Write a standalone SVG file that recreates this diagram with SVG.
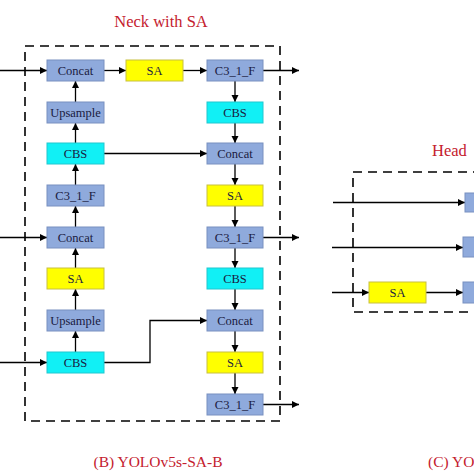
<svg xmlns="http://www.w3.org/2000/svg" width="474" height="474" viewBox="0 0 474 474">
<style>
.blue{fill:#8FAADC;stroke:#7890C0;stroke-width:1}
.cyan{fill:#11F0F5;stroke:#20C8D0;stroke-width:1}
.yel{fill:#FFFF00;stroke:#C8C040;stroke-width:1}
.lbl{font-family:"Liberation Serif","DejaVu Serif",serif;font-size:12.5px;text-anchor:middle;fill:#1a1a40}
.ttl{font-family:"Liberation Serif","DejaVu Serif",serif;font-size:16.5px;fill:#C4202E}
.cap{font-size:15.5px}
.dash{fill:none;stroke:#000;stroke-width:1.6;stroke-dasharray:9,6}
.ln{fill:none;stroke:#000;stroke-width:1.3}
</style>
<defs>
<marker id="ah" markerWidth="8" markerHeight="8" refX="7" refY="4" orient="auto" markerUnits="userSpaceOnUse">
<path d="M0,0.5 L7,4 L0,7.5 Z" fill="#000"/>
</marker>
</defs>
<rect width="474" height="474" fill="#fff"/>
<text class="ttl" x="161" y="27" text-anchor="middle">Neck with SA</text>
<text class="ttl" x="432" y="156">Head</text>
<text class="ttl cap" x="158" y="467" text-anchor="middle">(B) YOLOv5s-SA-B</text>
<text class="ttl cap" x="428" y="467">(C) YOLOv5s-SA-C</text>
<g id="frames">
<rect class="dash" x="25" y="46" width="255" height="375"/>
<rect class="dash" x="353" y="172" width="160" height="140"/>
</g>
<g id="connectors" class="ln">
<line x1="0" y1="70.5" x2="47" y2="70.5" marker-end="url(#ah)"/>
<line x1="0" y1="237.5" x2="47" y2="237.5" marker-end="url(#ah)"/>
<line x1="0" y1="362.5" x2="47" y2="362.5" marker-end="url(#ah)"/>
<line x1="263" y1="70.5" x2="299" y2="70.5" marker-end="url(#ah)"/>
<line x1="263" y1="237.5" x2="299" y2="237.5" marker-end="url(#ah)"/>
<line x1="263" y1="404.5" x2="299" y2="404.5" marker-end="url(#ah)"/>
<line x1="104" y1="70.5" x2="126" y2="70.5" marker-end="url(#ah)"/>
<line x1="183" y1="70.5" x2="207" y2="70.5" marker-end="url(#ah)"/>
<line x1="104" y1="153.5" x2="207" y2="153.5" marker-end="url(#ah)"/>
<polyline points="104,362.5 150,362.5 150,320.5 207,320.5" marker-end="url(#ah)"/>
<line x1="75.5" y1="102" x2="75.5" y2="81" marker-end="url(#ah)"/>
<line x1="75.5" y1="143" x2="75.5" y2="123" marker-end="url(#ah)"/>
<line x1="75.5" y1="185" x2="75.5" y2="164" marker-end="url(#ah)"/>
<line x1="75.5" y1="227" x2="75.5" y2="206" marker-end="url(#ah)"/>
<line x1="75.5" y1="268" x2="75.5" y2="248" marker-end="url(#ah)"/>
<line x1="75.5" y1="310" x2="75.5" y2="289" marker-end="url(#ah)"/>
<line x1="75.5" y1="352" x2="75.5" y2="331" marker-end="url(#ah)"/>
<line x1="235" y1="81" x2="235" y2="102" marker-end="url(#ah)"/>
<line x1="235" y1="123" x2="235" y2="143" marker-end="url(#ah)"/>
<line x1="235" y1="164" x2="235" y2="185" marker-end="url(#ah)"/>
<line x1="235" y1="206" x2="235" y2="227" marker-end="url(#ah)"/>
<line x1="235" y1="248" x2="235" y2="268" marker-end="url(#ah)"/>
<line x1="235" y1="289" x2="235" y2="310" marker-end="url(#ah)"/>
<line x1="235" y1="331" x2="235" y2="352" marker-end="url(#ah)"/>
<line x1="235" y1="373" x2="235" y2="394" marker-end="url(#ah)"/>
<line x1="333" y1="202.5" x2="465" y2="202.5" marker-end="url(#ah)"/>
<line x1="332" y1="247.5" x2="463" y2="247.5" marker-end="url(#ah)"/>
<line x1="332" y1="292.5" x2="369" y2="292.5" marker-end="url(#ah)"/>
<line x1="426" y1="292.5" x2="463" y2="292.5" marker-end="url(#ah)"/>
</g>
<g id="n-concat1"><rect class="blue" x="47" y="60" width="57" height="21"/><text class="lbl" x="75.5" y="75">Concat</text></g>
<g id="n-sa-top"><rect class="yel" x="126" y="60" width="57" height="21"/><text class="lbl" x="154.5" y="75">SA</text></g>
<g id="n-c3-r1"><rect class="blue" x="207" y="60" width="56" height="21"/><text class="lbl" x="235" y="75">C3_1_F</text></g>
<g id="n-up1"><rect class="blue" x="47" y="102" width="57" height="21"/><text class="lbl" x="75.5" y="117">Upsample</text></g>
<g id="n-cbs-r2"><rect class="cyan" x="207" y="102" width="56" height="21"/><text class="lbl" x="235" y="117">CBS</text></g>
<g id="n-cbs-l3"><rect class="cyan" x="47" y="143" width="57" height="21"/><text class="lbl" x="75.5" y="158">CBS</text></g>
<g id="n-concat-r3"><rect class="blue" x="207" y="143" width="56" height="21"/><text class="lbl" x="235" y="158">Concat</text></g>
<g id="n-c3-l4"><rect class="blue" x="47" y="185" width="57" height="21"/><text class="lbl" x="75.5" y="200">C3_1_F</text></g>
<g id="n-sa-r4"><rect class="yel" x="207" y="185" width="56" height="21"/><text class="lbl" x="235" y="200">SA</text></g>
<g id="n-concat-l5"><rect class="blue" x="47" y="227" width="57" height="21"/><text class="lbl" x="75.5" y="242">Concat</text></g>
<g id="n-c3-r5"><rect class="blue" x="207" y="227" width="56" height="21"/><text class="lbl" x="235" y="242">C3_1_F</text></g>
<g id="n-sa-l6"><rect class="yel" x="47" y="268" width="57" height="21"/><text class="lbl" x="75.5" y="283">SA</text></g>
<g id="n-cbs-r6"><rect class="cyan" x="207" y="268" width="56" height="21"/><text class="lbl" x="235" y="283">CBS</text></g>
<g id="n-up-l7"><rect class="blue" x="47" y="310" width="57" height="21"/><text class="lbl" x="75.5" y="325">Upsample</text></g>
<g id="n-concat-r7"><rect class="blue" x="207" y="310" width="56" height="21"/><text class="lbl" x="235" y="325">Concat</text></g>
<g id="n-cbs-l8"><rect class="cyan" x="47" y="352" width="57" height="21"/><text class="lbl" x="75.5" y="367">CBS</text></g>
<g id="n-sa-r8"><rect class="yel" x="207" y="352" width="56" height="21"/><text class="lbl" x="235" y="367">SA</text></g>
<g id="n-c3-r9"><rect class="blue" x="207" y="394" width="56" height="21"/><text class="lbl" x="235" y="409">C3_1_F</text></g>
<g id="h-box1"><rect class="blue" x="465" y="193" width="30" height="19"/></g>
<g id="h-box2"><rect class="blue" x="463" y="237" width="30" height="20"/></g>
<g id="h-sa"><rect class="yel" x="369" y="282" width="57" height="21"/><text class="lbl" x="397.5" y="297">SA</text></g>
<g id="h-box3"><rect class="blue" x="463" y="282" width="30" height="21"/></g>
</svg>
